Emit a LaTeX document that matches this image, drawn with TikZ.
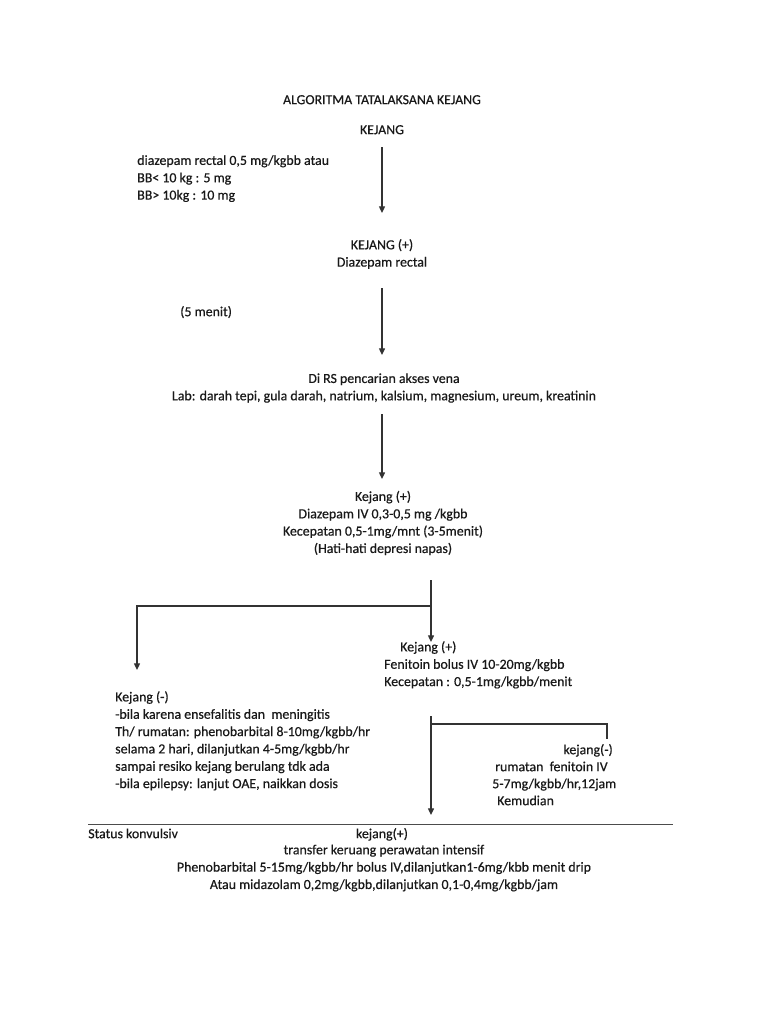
\documentclass[tikz,border=0pt]{standalone}
\usepackage{fontspec}
\setmainfont{Carlito}[FakeBold=0.5]
\newfontfamily\heavy{Carlito}[FakeBold=0.5]
\usetikzlibrary{arrows.meta}
\begin{document}
\begin{tikzpicture}[x=0.75pt,y=-0.75pt,
  txt/.style={inner sep=0pt,font=\heavy\fontsize{10.4}{13}\selectfont,text=black!90},
  ln/.style={draw=black!80,line width=0.95pt},
  arr/.style={ln,-{Triangle[length=5pt,width=4.5pt]}}]
\useasboundingbox[fill=white] (0,0) rectangle (768,1024);
% text
\node[txt,anchor=mid] (title) at (382,101) {ALGORITMA TATALAKSANA KEJANG};
\node[txt,anchor=mid] (k1) at (382,131) {KEJANG};
\node[txt,anchor=north west,align=left] (dz) at (137,155) {diazepam rectal 0,5 mg/kgbb atau\\BB< 10 kg : 5 mg\\BB> 10kg : 10 mg};
\node[txt,align=center] (k2) at (382,254) {KEJANG (+)\\Diazepam rectal};
\node[txt,anchor=mid west] (men) at (180,313) {(5 menit)};
\node[txt,align=center] (rs) at (384,388) {Di RS pencarian akses vena\\Lab: darah tepi, gula darah, natrium, kalsium, magnesium, ureum, kreatinin};
\node[txt,align=center] (k3) at (383,523) {Kejang (+)\\Diazepam IV 0,3-0,5 mg /kgbb\\Kecepatan 0,5-1mg/mnt (3-5menit)\\(Hati-hati depresi napas)};
\node[txt,anchor=north west,align=left] (fen) at (384,641) {\hspace*{12pt}Kejang (+)\\Fenitoin bolus IV 10-20mg/kgbb\\Kecepatan : 0,5-1mg/kgbb/menit};
\node[txt,anchor=north west,align=left] (neg) at (115,691) {Kejang (-)\\-bila karena ensefalitis dan\ \ meningitis\\Th/ rumatan: phenobarbital 8-10mg/kgbb/hr\\selama 2 hari, dilanjutkan 4-5mg/kgbb/hr\\sampai resiko kejang berulang tdk ada\\-bila epilepsy: lanjut OAE, naikkan dosis};
\node[txt,anchor=mid east] (kn) at (613,751) {kejang(-)};
\node[txt,anchor=mid west] (rum) at (495,768) {rumatan\ \ fenitoin IV};
\node[txt,anchor=mid west] (dose) at (492,785) {5-7mg/kgbb/hr,12jam};
\node[txt,anchor=mid west] (kem) at (497,802) {Kemudian};
\node[txt,anchor=mid west] (sk) at (88,835) {Status konvulsiv};
\node[txt,anchor=mid] (kp) at (382,835) {kejang(+)};
\node[txt,align=center] (icu) at (384,868) {transfer keruang perawatan intensif\\Phenobarbital 5-15mg/kgbb/hr bolus IV,dilanjutkan1-6mg/kbb menit drip\\Atau midazolam 0,2mg/kgbb,dilanjutkan 0,1-0,4mg/kgbb/jam};
% coordinates
\coordinate (a1s) at (382,147); \coordinate (a1e) at (382,213);
\coordinate (a2s) at (382,288); \coordinate (a2e) at (382,355);
\coordinate (a3s) at (382,414); \coordinate (a3e) at (382,479);
\coordinate (b1) at (431,580); \coordinate (bj) at (431,606); \coordinate (b2) at (431,642);
\coordinate (lc) at (137,606); \coordinate (le) at (137,670);
\coordinate (c1) at (431,716); \coordinate (cj) at (431,724); \coordinate (c2) at (431,815);
\coordinate (rc) at (607,724); \coordinate (re) at (607,739);
\coordinate (hl) at (88,824); \coordinate (hr) at (673,824);
% connectors
\draw[arr] (a1s) -- (a1e);
\draw[arr] (a2s) -- (a2e);
\draw[arr] (a3s) -- (a3e);
\draw[arr] (b1) -- (b2);
\draw[arr] (bj) -- (lc) -- (le);
\draw[arr] (c1) -- (c2);
\draw[ln] (cj) -- (rc) -- (re);
\draw[draw=black!70,line width=0.6pt] (hl) -- (hr);
\end{tikzpicture}
\end{document}
